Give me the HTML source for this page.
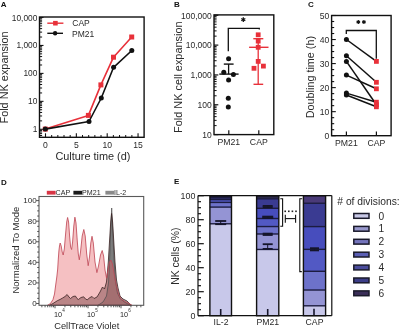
<!DOCTYPE html>
<html><head><meta charset="utf-8"><style>
html,body{margin:0;padding:0;background:#fff;}
svg{display:block;filter:blur(0.3px);font-family:"Liberation Sans",sans-serif;}
</style></head><body>
<svg width="400" height="330" viewBox="0 0 400 330">
<rect width="400" height="330" fill="#fff"/>
<text x="0.8" y="7.3" font-size="8" text-anchor="start" font-weight="bold" fill="#111" >A</text>
<rect x="39.5" y="17.0" width="104.6" height="120.30000000000001" fill="none" stroke="#111" stroke-width="1.4"/>
<line x1="39.5" y1="129.3" x2="43.5" y2="129.3" stroke="#111" stroke-width="1.1" />
<text x="37.4" y="132.3" font-size="8.4" text-anchor="end" font-weight="normal" fill="#2a2a2a" >1</text>
<line x1="39.5" y1="101.35" x2="43.5" y2="101.35" stroke="#111" stroke-width="1.1" />
<text x="37.4" y="104.35" font-size="8.4" text-anchor="end" font-weight="normal" fill="#2a2a2a" >10</text>
<line x1="39.5" y1="73.4" x2="43.5" y2="73.4" stroke="#111" stroke-width="1.1" />
<text x="37.4" y="76.4" font-size="8.4" text-anchor="end" font-weight="normal" fill="#2a2a2a" >100</text>
<line x1="39.5" y1="45.45" x2="43.5" y2="45.45" stroke="#111" stroke-width="1.1" />
<text x="37.4" y="48.45" font-size="8.4" text-anchor="end" font-weight="normal" fill="#2a2a2a" >1,000</text>
<line x1="39.5" y1="17.5" x2="43.5" y2="17.5" stroke="#111" stroke-width="1.1" />
<text x="37.4" y="20.5" font-size="8.4" text-anchor="end" font-weight="normal" fill="#2a2a2a" >10,000</text>
<line x1="39.5" y1="135.5" x2="42.1" y2="135.5" stroke="#111" stroke-width="1.0" />
<line x1="39.5" y1="133.63" x2="42.1" y2="133.63" stroke="#111" stroke-width="1.0" />
<line x1="39.5" y1="132.01" x2="42.1" y2="132.01" stroke="#111" stroke-width="1.0" />
<line x1="39.5" y1="130.58" x2="42.1" y2="130.58" stroke="#111" stroke-width="1.0" />
<line x1="39.5" y1="120.89" x2="42.1" y2="120.89" stroke="#111" stroke-width="1.0" />
<line x1="39.5" y1="115.96" x2="42.1" y2="115.96" stroke="#111" stroke-width="1.0" />
<line x1="39.5" y1="112.47" x2="42.1" y2="112.47" stroke="#111" stroke-width="1.0" />
<line x1="39.5" y1="109.76" x2="42.1" y2="109.76" stroke="#111" stroke-width="1.0" />
<line x1="39.5" y1="107.55" x2="42.1" y2="107.55" stroke="#111" stroke-width="1.0" />
<line x1="39.5" y1="105.68" x2="42.1" y2="105.68" stroke="#111" stroke-width="1.0" />
<line x1="39.5" y1="104.06" x2="42.1" y2="104.06" stroke="#111" stroke-width="1.0" />
<line x1="39.5" y1="102.63" x2="42.1" y2="102.63" stroke="#111" stroke-width="1.0" />
<line x1="39.5" y1="92.94" x2="42.1" y2="92.94" stroke="#111" stroke-width="1.0" />
<line x1="39.5" y1="88.01" x2="42.1" y2="88.01" stroke="#111" stroke-width="1.0" />
<line x1="39.5" y1="84.52" x2="42.1" y2="84.52" stroke="#111" stroke-width="1.0" />
<line x1="39.5" y1="81.81" x2="42.1" y2="81.81" stroke="#111" stroke-width="1.0" />
<line x1="39.5" y1="79.6" x2="42.1" y2="79.6" stroke="#111" stroke-width="1.0" />
<line x1="39.5" y1="77.73" x2="42.1" y2="77.73" stroke="#111" stroke-width="1.0" />
<line x1="39.5" y1="76.11" x2="42.1" y2="76.11" stroke="#111" stroke-width="1.0" />
<line x1="39.5" y1="74.68" x2="42.1" y2="74.68" stroke="#111" stroke-width="1.0" />
<line x1="39.5" y1="64.99" x2="42.1" y2="64.99" stroke="#111" stroke-width="1.0" />
<line x1="39.5" y1="60.06" x2="42.1" y2="60.06" stroke="#111" stroke-width="1.0" />
<line x1="39.5" y1="56.57" x2="42.1" y2="56.57" stroke="#111" stroke-width="1.0" />
<line x1="39.5" y1="53.86" x2="42.1" y2="53.86" stroke="#111" stroke-width="1.0" />
<line x1="39.5" y1="51.65" x2="42.1" y2="51.65" stroke="#111" stroke-width="1.0" />
<line x1="39.5" y1="49.78" x2="42.1" y2="49.78" stroke="#111" stroke-width="1.0" />
<line x1="39.5" y1="48.16" x2="42.1" y2="48.16" stroke="#111" stroke-width="1.0" />
<line x1="39.5" y1="46.73" x2="42.1" y2="46.73" stroke="#111" stroke-width="1.0" />
<line x1="39.5" y1="37.04" x2="42.1" y2="37.04" stroke="#111" stroke-width="1.0" />
<line x1="39.5" y1="32.11" x2="42.1" y2="32.11" stroke="#111" stroke-width="1.0" />
<line x1="39.5" y1="28.62" x2="42.1" y2="28.62" stroke="#111" stroke-width="1.0" />
<line x1="39.5" y1="25.91" x2="42.1" y2="25.91" stroke="#111" stroke-width="1.0" />
<line x1="39.5" y1="23.7" x2="42.1" y2="23.7" stroke="#111" stroke-width="1.0" />
<line x1="39.5" y1="21.83" x2="42.1" y2="21.83" stroke="#111" stroke-width="1.0" />
<line x1="39.5" y1="20.21" x2="42.1" y2="20.21" stroke="#111" stroke-width="1.0" />
<line x1="39.5" y1="18.78" x2="42.1" y2="18.78" stroke="#111" stroke-width="1.0" />
<line x1="45.5" y1="137.3" x2="45.5" y2="133.3" stroke="#111" stroke-width="1.1" />
<line x1="51.67" y1="137.3" x2="51.67" y2="135" stroke="#111" stroke-width="1.0" />
<line x1="57.84" y1="137.3" x2="57.84" y2="135" stroke="#111" stroke-width="1.0" />
<line x1="64.01" y1="137.3" x2="64.01" y2="135" stroke="#111" stroke-width="1.0" />
<line x1="70.18" y1="137.3" x2="70.18" y2="135" stroke="#111" stroke-width="1.0" />
<line x1="76.35" y1="137.3" x2="76.35" y2="133.3" stroke="#111" stroke-width="1.1" />
<line x1="82.52" y1="137.3" x2="82.52" y2="135" stroke="#111" stroke-width="1.0" />
<line x1="88.69" y1="137.3" x2="88.69" y2="135" stroke="#111" stroke-width="1.0" />
<line x1="94.86" y1="137.3" x2="94.86" y2="135" stroke="#111" stroke-width="1.0" />
<line x1="101.03" y1="137.3" x2="101.03" y2="135" stroke="#111" stroke-width="1.0" />
<line x1="107.2" y1="137.3" x2="107.2" y2="133.3" stroke="#111" stroke-width="1.1" />
<line x1="113.37" y1="137.3" x2="113.37" y2="135" stroke="#111" stroke-width="1.0" />
<line x1="119.54" y1="137.3" x2="119.54" y2="135" stroke="#111" stroke-width="1.0" />
<line x1="125.71" y1="137.3" x2="125.71" y2="135" stroke="#111" stroke-width="1.0" />
<line x1="131.88" y1="137.3" x2="131.88" y2="135" stroke="#111" stroke-width="1.0" />
<line x1="138.05" y1="137.3" x2="138.05" y2="133.3" stroke="#111" stroke-width="1.1" />
<text x="45.5" y="148.3" font-size="8.6" text-anchor="middle" font-weight="normal" fill="#2a2a2a" >0</text>
<text x="76.35" y="148.3" font-size="8.6" text-anchor="middle" font-weight="normal" fill="#2a2a2a" >5</text>
<text x="107.2" y="148.3" font-size="8.6" text-anchor="middle" font-weight="normal" fill="#2a2a2a" >10</text>
<text x="138.05" y="148.3" font-size="8.6" text-anchor="middle" font-weight="normal" fill="#2a2a2a" >15</text>
<text x="92.9" y="160.2" font-size="10.9" text-anchor="middle" font-weight="normal" fill="#2a2a2a" >Culture time (d)</text>
<text transform="translate(8.4,77.5) rotate(-90)" font-size="10.9" text-anchor="middle" fill="#2a2a2a">Fold NK expansion</text>
<polyline points="45.3,129.1 88.4,115.4 100.9,84.9 113.5,57.2 131.7,37" fill="none" stroke="#e8313a" stroke-width="1.6" stroke-linejoin="round" />
<rect x="42.8" y="126.6" width="5" height="5" fill="#e8313a"/>
<rect x="85.9" y="112.9" width="5" height="5" fill="#e8313a"/>
<rect x="98.4" y="82.4" width="5" height="5" fill="#e8313a"/>
<rect x="111" y="54.7" width="5" height="5" fill="#e8313a"/>
<rect x="129.2" y="34.5" width="5" height="5" fill="#e8313a"/>
<polyline points="45.3,129.1 89,121.5 101.3,98 113.6,67.3 131.8,50.5" fill="none" stroke="#111" stroke-width="1.6" stroke-linejoin="round" />
<circle cx="45.3" cy="129.1" r="2.5" fill="#111"/>
<circle cx="89" cy="121.5" r="2.5" fill="#111"/>
<circle cx="101.3" cy="98" r="2.5" fill="#111"/>
<circle cx="113.6" cy="67.3" r="2.5" fill="#111"/>
<circle cx="131.8" cy="50.5" r="2.5" fill="#111"/>
<line x1="47.3" y1="23.2" x2="63.4" y2="23.2" stroke="#e8313a" stroke-width="1.4" />
<rect x="53.1" y="20.9" width="4.6" height="4.6" fill="#e8313a"/>
<text x="72.3" y="26.3" font-size="8.5" text-anchor="start" font-weight="normal" fill="#2a2a2a" >CAP</text>
<line x1="47.3" y1="33.3" x2="63" y2="33.3" stroke="#111" stroke-width="1.4" />
<circle cx="55.1" cy="33.3" r="2.2" fill="#111"/>
<text x="72" y="36.7" font-size="8.5" text-anchor="start" font-weight="normal" fill="#2a2a2a" >PM21</text>
<text x="174" y="7.1" font-size="8" text-anchor="start" font-weight="bold" fill="#111" >B</text>
<rect x="214.0" y="14.9" width="59.80000000000001" height="119.69999999999999" fill="none" stroke="#111" stroke-width="1.4"/>
<line x1="214" y1="134.6" x2="218.3" y2="134.6" stroke="#111" stroke-width="1.2" />
<text x="211.8" y="137.9" font-size="8.5" text-anchor="end" font-weight="normal" fill="#2a2a2a" >10</text>
<line x1="214" y1="104.77" x2="218.3" y2="104.77" stroke="#111" stroke-width="1.2" />
<text x="211.8" y="108.07" font-size="8.5" text-anchor="end" font-weight="normal" fill="#2a2a2a" >100</text>
<line x1="214" y1="74.94" x2="218.3" y2="74.94" stroke="#111" stroke-width="1.2" />
<text x="211.8" y="78.24" font-size="8.5" text-anchor="end" font-weight="normal" fill="#2a2a2a" >1,000</text>
<line x1="214" y1="45.11" x2="218.3" y2="45.11" stroke="#111" stroke-width="1.2" />
<text x="211.8" y="48.41" font-size="8.5" text-anchor="end" font-weight="normal" fill="#2a2a2a" >10,000</text>
<line x1="214" y1="15.28" x2="218.3" y2="15.28" stroke="#111" stroke-width="1.2" />
<text x="211.8" y="18.58" font-size="8.5" text-anchor="end" font-weight="normal" fill="#2a2a2a" >100,000</text>
<line x1="214" y1="125.62" x2="216.6" y2="125.62" stroke="#111" stroke-width="1.0" />
<line x1="214" y1="120.37" x2="216.6" y2="120.37" stroke="#111" stroke-width="1.0" />
<line x1="214" y1="116.64" x2="216.6" y2="116.64" stroke="#111" stroke-width="1.0" />
<line x1="214" y1="113.75" x2="216.6" y2="113.75" stroke="#111" stroke-width="1.0" />
<line x1="214" y1="111.39" x2="216.6" y2="111.39" stroke="#111" stroke-width="1.0" />
<line x1="214" y1="109.39" x2="216.6" y2="109.39" stroke="#111" stroke-width="1.0" />
<line x1="214" y1="107.66" x2="216.6" y2="107.66" stroke="#111" stroke-width="1.0" />
<line x1="214" y1="106.13" x2="216.6" y2="106.13" stroke="#111" stroke-width="1.0" />
<line x1="214" y1="95.79" x2="216.6" y2="95.79" stroke="#111" stroke-width="1.0" />
<line x1="214" y1="90.54" x2="216.6" y2="90.54" stroke="#111" stroke-width="1.0" />
<line x1="214" y1="86.81" x2="216.6" y2="86.81" stroke="#111" stroke-width="1.0" />
<line x1="214" y1="83.92" x2="216.6" y2="83.92" stroke="#111" stroke-width="1.0" />
<line x1="214" y1="81.56" x2="216.6" y2="81.56" stroke="#111" stroke-width="1.0" />
<line x1="214" y1="79.56" x2="216.6" y2="79.56" stroke="#111" stroke-width="1.0" />
<line x1="214" y1="77.83" x2="216.6" y2="77.83" stroke="#111" stroke-width="1.0" />
<line x1="214" y1="76.3" x2="216.6" y2="76.3" stroke="#111" stroke-width="1.0" />
<line x1="214" y1="65.96" x2="216.6" y2="65.96" stroke="#111" stroke-width="1.0" />
<line x1="214" y1="60.71" x2="216.6" y2="60.71" stroke="#111" stroke-width="1.0" />
<line x1="214" y1="56.98" x2="216.6" y2="56.98" stroke="#111" stroke-width="1.0" />
<line x1="214" y1="54.09" x2="216.6" y2="54.09" stroke="#111" stroke-width="1.0" />
<line x1="214" y1="51.73" x2="216.6" y2="51.73" stroke="#111" stroke-width="1.0" />
<line x1="214" y1="49.73" x2="216.6" y2="49.73" stroke="#111" stroke-width="1.0" />
<line x1="214" y1="48" x2="216.6" y2="48" stroke="#111" stroke-width="1.0" />
<line x1="214" y1="46.47" x2="216.6" y2="46.47" stroke="#111" stroke-width="1.0" />
<line x1="214" y1="36.13" x2="216.6" y2="36.13" stroke="#111" stroke-width="1.0" />
<line x1="214" y1="30.88" x2="216.6" y2="30.88" stroke="#111" stroke-width="1.0" />
<line x1="214" y1="27.15" x2="216.6" y2="27.15" stroke="#111" stroke-width="1.0" />
<line x1="214" y1="24.26" x2="216.6" y2="24.26" stroke="#111" stroke-width="1.0" />
<line x1="214" y1="21.9" x2="216.6" y2="21.9" stroke="#111" stroke-width="1.0" />
<line x1="214" y1="19.9" x2="216.6" y2="19.9" stroke="#111" stroke-width="1.0" />
<line x1="214" y1="18.17" x2="216.6" y2="18.17" stroke="#111" stroke-width="1.0" />
<line x1="214" y1="16.64" x2="216.6" y2="16.64" stroke="#111" stroke-width="1.0" />
<line x1="228.8" y1="134.6" x2="228.8" y2="130.3" stroke="#111" stroke-width="1.2" />
<line x1="258.8" y1="134.6" x2="258.8" y2="130.3" stroke="#111" stroke-width="1.2" />
<text x="228.8" y="145" font-size="8.7" text-anchor="middle" font-weight="normal" fill="#2a2a2a" >PM21</text>
<text x="258.8" y="145" font-size="8.7" text-anchor="middle" font-weight="normal" fill="#2a2a2a" >CAP</text>
<text transform="translate(182.1,77.2) rotate(-90)" font-size="10.9" text-anchor="middle" fill="#2a2a2a">Fold NK cell expansion</text>
<circle cx="228.6" cy="58.8" r="2.5" fill="#111"/>
<circle cx="223.8" cy="72.3" r="2.5" fill="#111"/>
<circle cx="233.4" cy="74.5" r="2.5" fill="#111"/>
<circle cx="228.6" cy="80" r="2.5" fill="#111"/>
<circle cx="228.3" cy="98.2" r="2.5" fill="#111"/>
<circle cx="228.3" cy="106.9" r="2.5" fill="#111"/>
<line x1="219.3" y1="74.1" x2="238.6" y2="74.1" stroke="#111" stroke-width="1.4" />
<line x1="228.6" y1="64.1" x2="228.6" y2="74.1" stroke="#111" stroke-width="1.3" />
<line x1="223.8" y1="64.1" x2="233.6" y2="64.1" stroke="#111" stroke-width="1.4" />
<rect x="255.8" y="32.4" width="4.8" height="4.8" fill="#e8313a"/>
<rect x="255.8" y="38.7" width="4.8" height="4.8" fill="#e8313a"/>
<rect x="255.8" y="44.9" width="4.8" height="4.8" fill="#e8313a"/>
<rect x="255.8" y="59" width="4.8" height="4.8" fill="#e8313a"/>
<rect x="251.6" y="65.9" width="4.8" height="4.8" fill="#e8313a"/>
<rect x="261" y="63.7" width="4.8" height="4.8" fill="#e8313a"/>
<line x1="249.1" y1="47.3" x2="268.5" y2="47.3" stroke="#e8313a" stroke-width="1.4" />
<line x1="258.2" y1="38.7" x2="258.2" y2="84.3" stroke="#e8313a" stroke-width="1.3" />
<line x1="253.3" y1="38.7" x2="263.3" y2="38.7" stroke="#e8313a" stroke-width="1.4" />
<line x1="253.5" y1="84.3" x2="263.2" y2="84.3" stroke="#e8313a" stroke-width="1.4" />
<polyline points="228.3,51.2 228.3,28.3 259.3,28.3 259.3,29.5" fill="none" stroke="#111" stroke-width="1.3" stroke-linejoin="round" style="stroke-linejoin:miter"/>
<line x1="243.3" y1="17.3" x2="243.3" y2="21.9" stroke="#111" stroke-width="1.25"/>
<line x1="241.31" y1="18.45" x2="245.29" y2="20.75" stroke="#111" stroke-width="1.25"/>
<line x1="245.29" y1="18.45" x2="241.31" y2="20.75" stroke="#111" stroke-width="1.25"/>
<text x="307.9" y="7" font-size="8" text-anchor="start" font-weight="bold" fill="#111" >C</text>
<rect x="331.6" y="15.5" width="59.5" height="120.19999999999999" fill="none" stroke="#111" stroke-width="1.4"/>
<line x1="331.6" y1="135.7" x2="335.8" y2="135.7" stroke="#111" stroke-width="1.1" />
<line x1="331.6" y1="129.69" x2="334.2" y2="129.69" stroke="#111" stroke-width="1.1" />
<line x1="331.6" y1="123.68" x2="334.2" y2="123.68" stroke="#111" stroke-width="1.1" />
<line x1="331.6" y1="117.67" x2="334.2" y2="117.67" stroke="#111" stroke-width="1.1" />
<line x1="331.6" y1="111.66" x2="335.8" y2="111.66" stroke="#111" stroke-width="1.1" />
<line x1="331.6" y1="105.65" x2="334.2" y2="105.65" stroke="#111" stroke-width="1.1" />
<line x1="331.6" y1="99.64" x2="334.2" y2="99.64" stroke="#111" stroke-width="1.1" />
<line x1="331.6" y1="93.63" x2="334.2" y2="93.63" stroke="#111" stroke-width="1.1" />
<line x1="331.6" y1="87.62" x2="335.8" y2="87.62" stroke="#111" stroke-width="1.1" />
<line x1="331.6" y1="81.61" x2="334.2" y2="81.61" stroke="#111" stroke-width="1.1" />
<line x1="331.6" y1="75.6" x2="334.2" y2="75.6" stroke="#111" stroke-width="1.1" />
<line x1="331.6" y1="69.59" x2="334.2" y2="69.59" stroke="#111" stroke-width="1.1" />
<line x1="331.6" y1="63.58" x2="335.8" y2="63.58" stroke="#111" stroke-width="1.1" />
<line x1="331.6" y1="57.57" x2="334.2" y2="57.57" stroke="#111" stroke-width="1.1" />
<line x1="331.6" y1="51.56" x2="334.2" y2="51.56" stroke="#111" stroke-width="1.1" />
<line x1="331.6" y1="45.55" x2="334.2" y2="45.55" stroke="#111" stroke-width="1.1" />
<line x1="331.6" y1="39.54" x2="335.8" y2="39.54" stroke="#111" stroke-width="1.1" />
<line x1="331.6" y1="33.53" x2="334.2" y2="33.53" stroke="#111" stroke-width="1.1" />
<line x1="331.6" y1="27.52" x2="334.2" y2="27.52" stroke="#111" stroke-width="1.1" />
<line x1="331.6" y1="21.51" x2="334.2" y2="21.51" stroke="#111" stroke-width="1.1" />
<line x1="331.6" y1="15.5" x2="335.8" y2="15.5" stroke="#111" stroke-width="1.1" />
<text x="329.3" y="138.8" font-size="8.6" text-anchor="end" font-weight="normal" fill="#2a2a2a" >0</text>
<text x="329.3" y="114.76" font-size="8.6" text-anchor="end" font-weight="normal" fill="#2a2a2a" >10</text>
<text x="329.3" y="90.72" font-size="8.6" text-anchor="end" font-weight="normal" fill="#2a2a2a" >20</text>
<text x="329.3" y="66.68" font-size="8.6" text-anchor="end" font-weight="normal" fill="#2a2a2a" >30</text>
<text x="329.3" y="42.64" font-size="8.6" text-anchor="end" font-weight="normal" fill="#2a2a2a" >40</text>
<text x="329.3" y="18.6" font-size="8.6" text-anchor="end" font-weight="normal" fill="#2a2a2a" >50</text>
<line x1="346.4" y1="135.7" x2="346.4" y2="131.5" stroke="#111" stroke-width="1.2" />
<line x1="376.4" y1="135.7" x2="376.4" y2="131.5" stroke="#111" stroke-width="1.2" />
<text x="346.4" y="146" font-size="8.7" text-anchor="middle" font-weight="normal" fill="#2a2a2a" >PM21</text>
<text x="376.4" y="146" font-size="8.7" text-anchor="middle" font-weight="normal" fill="#2a2a2a" >CAP</text>
<text transform="translate(314.2,77.1) rotate(-90)" font-size="10.8" text-anchor="middle" fill="#2a2a2a">Doubling time (h)</text>
<line x1="346.4" y1="39.5" x2="376.4" y2="61.4" stroke="#111" stroke-width="1.5" />
<line x1="346.4" y1="55.8" x2="376.4" y2="82.3" stroke="#111" stroke-width="1.5" />
<line x1="346.4" y1="61.4" x2="376.4" y2="104.7" stroke="#111" stroke-width="1.5" />
<line x1="346.4" y1="75.1" x2="376.4" y2="88.8" stroke="#111" stroke-width="1.5" />
<line x1="346.4" y1="93.1" x2="376.4" y2="102.2" stroke="#111" stroke-width="1.5" />
<line x1="346.4" y1="95" x2="376.4" y2="106.8" stroke="#111" stroke-width="1.5" />
<circle cx="346.4" cy="39.5" r="2.5" fill="#111"/>
<rect x="374" y="59" width="4.8" height="4.8" fill="#e8313a"/>
<circle cx="346.4" cy="55.8" r="2.5" fill="#111"/>
<rect x="374" y="79.9" width="4.8" height="4.8" fill="#e8313a"/>
<circle cx="346.4" cy="61.4" r="2.5" fill="#111"/>
<rect x="374" y="102.3" width="4.8" height="4.8" fill="#e8313a"/>
<circle cx="346.4" cy="75.1" r="2.5" fill="#111"/>
<rect x="374" y="86.4" width="4.8" height="4.8" fill="#e8313a"/>
<circle cx="346.4" cy="93.1" r="2.5" fill="#111"/>
<rect x="374" y="99.8" width="4.8" height="4.8" fill="#e8313a"/>
<circle cx="346.4" cy="95.0" r="2.5" fill="#111"/>
<rect x="374" y="104.4" width="4.8" height="4.8" fill="#e8313a"/>
<polyline points="346.3,34 346.3,30.5 376.3,30.5 376.3,58.8" fill="none" stroke="#111" stroke-width="1.3" stroke-linejoin="round" style="stroke-linejoin:miter"/>
<line x1="358.3" y1="20" x2="358.3" y2="24" stroke="#111" stroke-width="1.25"/>
<line x1="356.57" y1="21" x2="360.03" y2="23" stroke="#111" stroke-width="1.25"/>
<line x1="360.03" y1="21" x2="356.57" y2="23" stroke="#111" stroke-width="1.25"/>
<line x1="363.9" y1="20" x2="363.9" y2="24" stroke="#111" stroke-width="1.25"/>
<line x1="362.17" y1="21" x2="365.63" y2="23" stroke="#111" stroke-width="1.25"/>
<line x1="365.63" y1="21" x2="362.17" y2="23" stroke="#111" stroke-width="1.25"/>
<text x="1" y="184.6" font-size="8" text-anchor="start" font-weight="bold" fill="#111" >D</text>
<path d="M98,305.3 L103,302 L106.5,296 L108.6,282 L109.8,255 L110.8,228 L111.7,208 L112.6,228 L113.8,255 L115.3,280 L117.5,293 L120.5,299 L126,303 L131,305.3 Z" fill="#c4c4c4" stroke="none"/>
<path d="M49.5,305.3 L53,303.5 L57.7,300.5 L60,299.5 L62.6,298 L65,296.5 L67.1,294.5 L69,297 L70.5,298.5 L73,296.5 L75.4,296 L77,298.5 L78.4,299.5 L81,297.5 L83.7,296.8 L85.5,299 L87.2,299.8 L90,297.5 L92.1,296.5 L94,298.5 L97,297 L100,292 L102.5,287 L104.5,289 L106.5,282 L108.3,262 L109.6,240 L110.7,222 L111.6,213.5 L112.6,222 L113.7,240 L115,262 L116.5,280 L118,288 L120,296 L123,299 L127,301 L131,305.3 Z" fill="#000" fill-opacity="0.37" stroke="none"/>
<path d="M47.5,305.3 L50.5,303.5 L53,299.5 L54.5,294 L55.7,285 L56.8,277 L57.7,269 L58.3,259 L58.9,251 L59.5,246 L60.2,243 L61.2,246 L62.2,252 L63.2,255 L64.3,249 L65.5,235 L66.7,222 L67.6,217.5 L68.6,222 L69.6,236 L70.6,247 L71.6,249.5 L72.6,242 L73.8,226 L74.9,217.2 L76,223 L77.2,240 L78.3,254 L79.3,259.8 L80.5,252 L82.2,236 L83.8,229.5 L85.2,236 L86.7,254 L88.2,265.7 L89.5,257 L90.8,243 L92,236.3 L93.3,243 L95,262 L96.9,272.6 L98.5,266 L100.5,255 L102.2,250.5 L103.6,256 L105,270 L106.5,278 L108,270 L109.5,262 L110.8,260 L112.5,264 L114.5,276 L116.5,286 L118.5,294 L121,299 L125,301.5 L129,303.5 L132,305.3 Z" fill="rgb(230,90,95)" fill-opacity="0.38" stroke="none"/>
<path d="M98,305.3 L103,302 L106.5,296 L108.6,282 L109.8,255 L110.8,228 L111.7,208 L112.6,228 L113.8,255 L115.3,280 L117.5,293 L120.5,299 L126,303 L131,305.3 Z" fill="none" stroke="#4a4a4a" stroke-width="0.7" stroke-linejoin="round"/>
<path d="M49.5,305.3 L53,303.5 L57.7,300.5 L60,299.5 L62.6,298 L65,296.5 L67.1,294.5 L69,297 L70.5,298.5 L73,296.5 L75.4,296 L77,298.5 L78.4,299.5 L81,297.5 L83.7,296.8 L85.5,299 L87.2,299.8 L90,297.5 L92.1,296.5 L94,298.5 L97,297 L100,292 L102.5,287 L104.5,289 L106.5,282 L108.3,262 L109.6,240 L110.7,222 L111.6,213.5 L112.6,222 L113.7,240 L115,262 L116.5,280 L118,288 L120,296 L123,299 L127,301 L131,305.3 Z" fill="none" stroke="#3a2222" stroke-width="0.8" stroke-linejoin="round"/>
<path d="M47.5,305.3 L50.5,303.5 L53,299.5 L54.5,294 L55.7,285 L56.8,277 L57.7,269 L58.3,259 L58.9,251 L59.5,246 L60.2,243 L61.2,246 L62.2,252 L63.2,255 L64.3,249 L65.5,235 L66.7,222 L67.6,217.5 L68.6,222 L69.6,236 L70.6,247 L71.6,249.5 L72.6,242 L73.8,226 L74.9,217.2 L76,223 L77.2,240 L78.3,254 L79.3,259.8 L80.5,252 L82.2,236 L83.8,229.5 L85.2,236 L86.7,254 L88.2,265.7 L89.5,257 L90.8,243 L92,236.3 L93.3,243 L95,262 L96.9,272.6 L98.5,266 L100.5,255 L102.2,250.5 L103.6,256 L105,270 L106.5,278 L108,270 L109.5,262 L110.8,260 L112.5,264 L114.5,276 L116.5,286 L118.5,294 L121,299 L125,301.5 L129,303.5 L132,305.3 Z" fill="none" stroke="#c04a58" stroke-width="0.85" stroke-linejoin="round"/>
<rect x="39.0" y="196.5" width="104.69999999999999" height="108.80000000000001" fill="none" stroke="#5a5a5a" stroke-width="1.1"/>
<line x1="39" y1="303.5" x2="36.2" y2="303.5" stroke="#444" stroke-width="0.9" />
<line x1="39" y1="298.36" x2="37.2" y2="298.36" stroke="#444" stroke-width="0.9" />
<line x1="39" y1="293.21" x2="37.2" y2="293.21" stroke="#444" stroke-width="0.9" />
<line x1="39" y1="288.06" x2="37.2" y2="288.06" stroke="#444" stroke-width="0.9" />
<line x1="39" y1="282.92" x2="36.2" y2="282.92" stroke="#444" stroke-width="0.9" />
<line x1="39" y1="277.77" x2="37.2" y2="277.77" stroke="#444" stroke-width="0.9" />
<line x1="39" y1="272.63" x2="37.2" y2="272.63" stroke="#444" stroke-width="0.9" />
<line x1="39" y1="267.49" x2="37.2" y2="267.49" stroke="#444" stroke-width="0.9" />
<line x1="39" y1="262.34" x2="36.2" y2="262.34" stroke="#444" stroke-width="0.9" />
<line x1="39" y1="257.19" x2="37.2" y2="257.19" stroke="#444" stroke-width="0.9" />
<line x1="39" y1="252.05" x2="37.2" y2="252.05" stroke="#444" stroke-width="0.9" />
<line x1="39" y1="246.91" x2="37.2" y2="246.91" stroke="#444" stroke-width="0.9" />
<line x1="39" y1="241.76" x2="36.2" y2="241.76" stroke="#444" stroke-width="0.9" />
<line x1="39" y1="236.62" x2="37.2" y2="236.62" stroke="#444" stroke-width="0.9" />
<line x1="39" y1="231.47" x2="37.2" y2="231.47" stroke="#444" stroke-width="0.9" />
<line x1="39" y1="226.32" x2="37.2" y2="226.32" stroke="#444" stroke-width="0.9" />
<line x1="39" y1="221.18" x2="36.2" y2="221.18" stroke="#444" stroke-width="0.9" />
<line x1="39" y1="216.04" x2="37.2" y2="216.04" stroke="#444" stroke-width="0.9" />
<line x1="39" y1="210.89" x2="37.2" y2="210.89" stroke="#444" stroke-width="0.9" />
<line x1="39" y1="205.75" x2="37.2" y2="205.75" stroke="#444" stroke-width="0.9" />
<line x1="39" y1="200.6" x2="36.2" y2="200.6" stroke="#444" stroke-width="0.9" />
<text x="36.6" y="305.9" font-size="8" text-anchor="end" font-weight="normal" fill="#2a2a2a" >0</text>
<text x="36.6" y="285.32" font-size="8" text-anchor="end" font-weight="normal" fill="#2a2a2a" >20</text>
<text x="36.6" y="264.74" font-size="8" text-anchor="end" font-weight="normal" fill="#2a2a2a" >40</text>
<text x="36.6" y="244.16" font-size="8" text-anchor="end" font-weight="normal" fill="#2a2a2a" >60</text>
<text x="36.6" y="223.58" font-size="8" text-anchor="end" font-weight="normal" fill="#2a2a2a" >80</text>
<text x="36.6" y="203" font-size="8" text-anchor="end" font-weight="normal" fill="#2a2a2a" >100</text>
<line x1="41.87" y1="305.3" x2="41.87" y2="307.3" stroke="#444" stroke-width="0.9" />
<line x1="45.07" y1="305.3" x2="45.07" y2="307.3" stroke="#444" stroke-width="0.9" />
<line x1="47.68" y1="305.3" x2="47.68" y2="307.3" stroke="#444" stroke-width="0.9" />
<line x1="49.89" y1="305.3" x2="49.89" y2="307.3" stroke="#444" stroke-width="0.9" />
<line x1="51.8" y1="305.3" x2="51.8" y2="307.3" stroke="#444" stroke-width="0.9" />
<line x1="53.49" y1="305.3" x2="53.49" y2="307.3" stroke="#444" stroke-width="0.9" />
<line x1="55" y1="305.3" x2="55" y2="308.3" stroke="#444" stroke-width="0.9" />
<line x1="64.93" y1="305.3" x2="64.93" y2="307.3" stroke="#444" stroke-width="0.9" />
<line x1="70.75" y1="305.3" x2="70.75" y2="307.3" stroke="#444" stroke-width="0.9" />
<line x1="74.87" y1="305.3" x2="74.87" y2="307.3" stroke="#444" stroke-width="0.9" />
<line x1="78.07" y1="305.3" x2="78.07" y2="307.3" stroke="#444" stroke-width="0.9" />
<line x1="80.68" y1="305.3" x2="80.68" y2="307.3" stroke="#444" stroke-width="0.9" />
<line x1="82.89" y1="305.3" x2="82.89" y2="307.3" stroke="#444" stroke-width="0.9" />
<line x1="84.8" y1="305.3" x2="84.8" y2="307.3" stroke="#444" stroke-width="0.9" />
<line x1="86.49" y1="305.3" x2="86.49" y2="307.3" stroke="#444" stroke-width="0.9" />
<line x1="88" y1="305.3" x2="88" y2="308.3" stroke="#444" stroke-width="0.9" />
<line x1="97.93" y1="305.3" x2="97.93" y2="307.3" stroke="#444" stroke-width="0.9" />
<line x1="103.75" y1="305.3" x2="103.75" y2="307.3" stroke="#444" stroke-width="0.9" />
<line x1="107.87" y1="305.3" x2="107.87" y2="307.3" stroke="#444" stroke-width="0.9" />
<line x1="111.07" y1="305.3" x2="111.07" y2="307.3" stroke="#444" stroke-width="0.9" />
<line x1="113.68" y1="305.3" x2="113.68" y2="307.3" stroke="#444" stroke-width="0.9" />
<line x1="115.89" y1="305.3" x2="115.89" y2="307.3" stroke="#444" stroke-width="0.9" />
<line x1="117.8" y1="305.3" x2="117.8" y2="307.3" stroke="#444" stroke-width="0.9" />
<line x1="119.49" y1="305.3" x2="119.49" y2="307.3" stroke="#444" stroke-width="0.9" />
<line x1="121" y1="305.3" x2="121" y2="308.3" stroke="#444" stroke-width="0.9" />
<line x1="130.93" y1="305.3" x2="130.93" y2="307.3" stroke="#444" stroke-width="0.9" />
<line x1="136.75" y1="305.3" x2="136.75" y2="307.3" stroke="#444" stroke-width="0.9" />
<line x1="140.87" y1="305.3" x2="140.87" y2="307.3" stroke="#444" stroke-width="0.9" />
<text x="54" y="316.6" font-size="7.3" text-anchor="start" font-weight="normal" fill="#2a2a2a" >10</text>
<text x="62.3" y="311.9" font-size="4.6" text-anchor="start" font-weight="normal" fill="#2a2a2a" >4</text>
<text x="87" y="316.6" font-size="7.3" text-anchor="start" font-weight="normal" fill="#2a2a2a" >10</text>
<text x="95.3" y="311.9" font-size="4.6" text-anchor="start" font-weight="normal" fill="#2a2a2a" >5</text>
<text x="120" y="316.6" font-size="7.3" text-anchor="start" font-weight="normal" fill="#2a2a2a" >10</text>
<text x="128.3" y="311.9" font-size="4.6" text-anchor="start" font-weight="normal" fill="#2a2a2a" >6</text>
<text x="86.8" y="329.3" font-size="9.3" text-anchor="middle" font-weight="normal" fill="#2a2a2a" >CellTrace Violet</text>
<text transform="translate(19.3,250.1) rotate(-90)" font-size="9.5" text-anchor="middle" fill="#2a2a2a">Normalized To Mode</text>
<rect x="46.8" y="190.8" width="8.8" height="3.8" fill="#d83545"/>
<text x="55.6" y="195" font-size="7.1" text-anchor="start" font-weight="normal" fill="#2a2a2a" >CAP</text>
<rect x="73.4" y="190.8" width="8.8" height="3.8" fill="#1a1a1a"/>
<text x="82.1" y="195" font-size="7.1" text-anchor="start" font-weight="normal" fill="#2a2a2a" >PM21</text>
<rect x="105.4" y="190.8" width="8.8" height="3.8" fill="#8a8a8a"/>
<text x="114.1" y="195" font-size="7.1" text-anchor="start" font-weight="normal" fill="#2a2a2a" >IL-2</text>
<text x="173.9" y="184.4" font-size="8" text-anchor="start" font-weight="bold" fill="#111" >E</text>
<rect x="209.9" y="223.78" width="21.6" height="91.92" fill="#c8c8ea"/>
<rect x="209.9" y="207.1" width="21.6" height="16.68" fill="#9494d4"/>
<rect x="209.9" y="202.42" width="21.6" height="4.68" fill="#6d72ca"/>
<rect x="209.9" y="199.6" width="21.6" height="2.82" fill="#5259c4"/>
<rect x="209.9" y="197.5" width="21.6" height="2.1" fill="#2e2e66"/>
<rect x="209.9" y="196.3" width="21.6" height="1.2" fill="#2a2a55"/>
<rect x="209.9" y="195.7" width="21.6" height="0.6" fill="#2a2848"/>
<line x1="209.9" y1="223.78" x2="231.5" y2="223.78" stroke="#1c1c40" stroke-width="1.4" />
<line x1="209.9" y1="207.1" x2="231.5" y2="207.1" stroke="#1c1c40" stroke-width="1.4" />
<line x1="209.9" y1="202.42" x2="231.5" y2="202.42" stroke="#1c1c40" stroke-width="1.4" />
<line x1="209.9" y1="199.6" x2="231.5" y2="199.6" stroke="#1c1c40" stroke-width="1.4" />
<line x1="209.9" y1="197.5" x2="231.5" y2="197.5" stroke="#1c1c40" stroke-width="1.4" />
<line x1="209.9" y1="196.3" x2="231.5" y2="196.3" stroke="#1c1c40" stroke-width="1.4" />
<rect x="209.9" y="195.7" width="21.6" height="120" fill="none" stroke="#111" stroke-width="1.4"/>
<rect x="256.6" y="249.46" width="22.2" height="66.24" fill="#c8c8ea"/>
<rect x="256.6" y="233.98" width="22.2" height="15.48" fill="#9494d4"/>
<rect x="256.6" y="226.54" width="22.2" height="7.44" fill="#6d72ca"/>
<rect x="256.6" y="218.5" width="22.2" height="8.04" fill="#5259c4"/>
<rect x="256.6" y="208.3" width="22.2" height="10.2" fill="#474dbd"/>
<rect x="256.6" y="198.82" width="22.2" height="9.48" fill="#3a3b92"/>
<rect x="256.6" y="195.7" width="22.2" height="3.12" fill="#2a2848"/>
<line x1="256.6" y1="249.46" x2="278.8" y2="249.46" stroke="#1c1c40" stroke-width="1.4" />
<line x1="256.6" y1="233.98" x2="278.8" y2="233.98" stroke="#1c1c40" stroke-width="1.4" />
<line x1="256.6" y1="226.54" x2="278.8" y2="226.54" stroke="#1c1c40" stroke-width="1.4" />
<line x1="256.6" y1="218.5" x2="278.8" y2="218.5" stroke="#1c1c40" stroke-width="1.4" />
<line x1="256.6" y1="208.3" x2="278.8" y2="208.3" stroke="#1c1c40" stroke-width="1.4" />
<line x1="256.6" y1="198.82" x2="278.8" y2="198.82" stroke="#1c1c40" stroke-width="1.4" />
<rect x="256.6" y="195.7" width="22.2" height="120" fill="none" stroke="#111" stroke-width="1.4"/>
<rect x="303.4" y="305.8" width="22.2" height="9.9" fill="#c8c8ea"/>
<rect x="303.4" y="290.02" width="22.2" height="15.78" fill="#9494d4"/>
<rect x="303.4" y="271.3" width="22.2" height="18.72" fill="#6d72ca"/>
<rect x="303.4" y="249.34" width="22.2" height="21.96" fill="#5259c4"/>
<rect x="303.4" y="226.6" width="22.2" height="22.74" fill="#474dbd"/>
<rect x="303.4" y="203.26" width="22.2" height="23.34" fill="#3a3b92"/>
<rect x="303.4" y="195.7" width="22.2" height="7.56" fill="#4a3a78"/>
<line x1="303.4" y1="305.8" x2="325.6" y2="305.8" stroke="#1c1c40" stroke-width="1.4" />
<line x1="303.4" y1="290.02" x2="325.6" y2="290.02" stroke="#1c1c40" stroke-width="1.4" />
<line x1="303.4" y1="271.3" x2="325.6" y2="271.3" stroke="#1c1c40" stroke-width="1.4" />
<line x1="303.4" y1="249.34" x2="325.6" y2="249.34" stroke="#1c1c40" stroke-width="1.4" />
<line x1="303.4" y1="226.6" x2="325.6" y2="226.6" stroke="#1c1c40" stroke-width="1.4" />
<line x1="303.4" y1="203.26" x2="325.6" y2="203.26" stroke="#1c1c40" stroke-width="1.4" />
<rect x="303.4" y="195.7" width="22.2" height="120" fill="none" stroke="#111" stroke-width="1.4"/>
<line x1="215.2" y1="221" x2="226.2" y2="221" stroke="#15152a" stroke-width="1.8" />
<line x1="215.2" y1="224.2" x2="226.2" y2="224.2" stroke="#15152a" stroke-width="1.8" />
<line x1="220.7" y1="221" x2="220.7" y2="224.2" stroke="#15152a" stroke-width="1.0" />
<line x1="262.7" y1="205.9" x2="272.7" y2="205.9" stroke="#15152a" stroke-width="1.8" />
<line x1="262.7" y1="207.2" x2="272.7" y2="207.2" stroke="#15152a" stroke-width="1.8" />
<line x1="267.7" y1="205.9" x2="267.7" y2="207.2" stroke="#15152a" stroke-width="1.0" />
<line x1="262.2" y1="216.6" x2="273.2" y2="216.6" stroke="#15152a" stroke-width="1.8" />
<line x1="262.2" y1="218" x2="273.2" y2="218" stroke="#15152a" stroke-width="1.8" />
<line x1="267.7" y1="216.6" x2="267.7" y2="218" stroke="#15152a" stroke-width="1.0" />
<line x1="262.7" y1="233.6" x2="272.7" y2="233.6" stroke="#15152a" stroke-width="1.8" />
<line x1="262.7" y1="235" x2="272.7" y2="235" stroke="#15152a" stroke-width="1.8" />
<line x1="267.7" y1="233.6" x2="267.7" y2="235" stroke="#15152a" stroke-width="1.0" />
<line x1="262.7" y1="244.2" x2="272.7" y2="244.2" stroke="#15152a" stroke-width="1.8" />
<line x1="262.7" y1="248.9" x2="272.7" y2="248.9" stroke="#15152a" stroke-width="1.8" />
<line x1="267.7" y1="244.2" x2="267.7" y2="248.9" stroke="#15152a" stroke-width="1.0" />
<line x1="310" y1="248.2" x2="319" y2="248.2" stroke="#15152a" stroke-width="1.8" />
<line x1="310" y1="250.4" x2="319" y2="250.4" stroke="#15152a" stroke-width="1.8" />
<line x1="314.5" y1="248.2" x2="314.5" y2="250.4" stroke="#15152a" stroke-width="1.0" />
<line x1="220.7" y1="309" x2="220.7" y2="315.7" stroke="#15152a" stroke-width="1.6" />
<line x1="267.7" y1="309" x2="267.7" y2="315.7" stroke="#15152a" stroke-width="1.6" />
<line x1="314" y1="308.8" x2="314" y2="315.7" stroke="#15152a" stroke-width="1.6" />
<line x1="198" y1="195.6" x2="331.8" y2="195.6" stroke="#111" stroke-width="1.2" />
<line x1="198" y1="315.7" x2="331.8" y2="315.7" stroke="#111" stroke-width="1.2" />
<line x1="198" y1="195.6" x2="198" y2="315.7" stroke="#111" stroke-width="1.2" />
<line x1="331.8" y1="195.6" x2="331.8" y2="315.7" stroke="#111" stroke-width="1.2" />
<line x1="198" y1="315.7" x2="203.8" y2="315.7" stroke="#111" stroke-width="1.2" />
<line x1="198" y1="309.7" x2="201" y2="309.7" stroke="#111" stroke-width="1.2" />
<line x1="198" y1="303.7" x2="201" y2="303.7" stroke="#111" stroke-width="1.2" />
<line x1="198" y1="297.7" x2="201" y2="297.7" stroke="#111" stroke-width="1.2" />
<line x1="198" y1="291.7" x2="203.8" y2="291.7" stroke="#111" stroke-width="1.2" />
<line x1="198" y1="285.7" x2="201" y2="285.7" stroke="#111" stroke-width="1.2" />
<line x1="198" y1="279.7" x2="201" y2="279.7" stroke="#111" stroke-width="1.2" />
<line x1="198" y1="273.7" x2="201" y2="273.7" stroke="#111" stroke-width="1.2" />
<line x1="198" y1="267.7" x2="203.8" y2="267.7" stroke="#111" stroke-width="1.2" />
<line x1="198" y1="261.7" x2="201" y2="261.7" stroke="#111" stroke-width="1.2" />
<line x1="198" y1="255.7" x2="201" y2="255.7" stroke="#111" stroke-width="1.2" />
<line x1="198" y1="249.7" x2="201" y2="249.7" stroke="#111" stroke-width="1.2" />
<line x1="198" y1="243.7" x2="203.8" y2="243.7" stroke="#111" stroke-width="1.2" />
<line x1="198" y1="237.7" x2="201" y2="237.7" stroke="#111" stroke-width="1.2" />
<line x1="198" y1="231.7" x2="201" y2="231.7" stroke="#111" stroke-width="1.2" />
<line x1="198" y1="225.7" x2="201" y2="225.7" stroke="#111" stroke-width="1.2" />
<line x1="198" y1="219.7" x2="203.8" y2="219.7" stroke="#111" stroke-width="1.2" />
<line x1="198" y1="213.7" x2="201" y2="213.7" stroke="#111" stroke-width="1.2" />
<line x1="198" y1="207.7" x2="201" y2="207.7" stroke="#111" stroke-width="1.2" />
<line x1="198" y1="201.7" x2="201" y2="201.7" stroke="#111" stroke-width="1.2" />
<line x1="198" y1="195.7" x2="203.8" y2="195.7" stroke="#111" stroke-width="1.2" />
<text x="195.4" y="318.8" font-size="8.9" text-anchor="end" font-weight="normal" fill="#2a2a2a" >0</text>
<text x="195.4" y="294.8" font-size="8.9" text-anchor="end" font-weight="normal" fill="#2a2a2a" >20</text>
<text x="195.4" y="270.8" font-size="8.9" text-anchor="end" font-weight="normal" fill="#2a2a2a" >40</text>
<text x="195.4" y="246.8" font-size="8.9" text-anchor="end" font-weight="normal" fill="#2a2a2a" >60</text>
<text x="195.4" y="222.8" font-size="8.9" text-anchor="end" font-weight="normal" fill="#2a2a2a" >80</text>
<text x="195.4" y="198.8" font-size="8.9" text-anchor="end" font-weight="normal" fill="#2a2a2a" >100</text>
<text x="221" y="325.4" font-size="8.7" text-anchor="middle" font-weight="normal" fill="#2a2a2a" >IL-2</text>
<text x="267.8" y="325.4" font-size="8.7" text-anchor="middle" font-weight="normal" fill="#2a2a2a" >PM21</text>
<text x="314.5" y="325.4" font-size="8.7" text-anchor="middle" font-weight="normal" fill="#2a2a2a" >CAP</text>
<text transform="translate(178.5,256.2) rotate(-90)" font-size="10.4" text-anchor="middle" fill="#2a2a2a">NK cells (%)</text>
<polyline points="280.3,198.7 282.6,198.7 282.6,226.2 280.3,226.2" fill="none" stroke="#111" stroke-width="1.1" stroke-linejoin="round" style="stroke-linejoin:miter"/>
<rect x="284.4" y="210.5" width="1.6" height="1.6" fill="#222"/>
<rect x="288" y="210.5" width="1.6" height="1.6" fill="#222"/>
<rect x="291.6" y="210.5" width="1.6" height="1.6" fill="#222"/>
<rect x="295.2" y="210.5" width="1.6" height="1.6" fill="#222"/>
<line x1="285.3" y1="214.7" x2="285.3" y2="222.7" stroke="#111" stroke-width="1.1" />
<line x1="295.6" y1="214.7" x2="295.6" y2="222.7" stroke="#111" stroke-width="1.1" />
<line x1="285.3" y1="218.6" x2="295.6" y2="218.6" stroke="#111" stroke-width="1.1" />
<polyline points="302.2,198.7 299.8,198.7 299.8,271.6 301.8,271.6" fill="none" stroke="#111" stroke-width="1.1" stroke-linejoin="round" style="stroke-linejoin:miter"/>
<text x="337.3" y="204.6" font-size="10.3" text-anchor="start" font-weight="normal" fill="#2a2a2a" ># of divisions:</text>
<rect x="353.8" y="213.5" width="15.2" height="4.8" fill="#c8c8e6" stroke="#1a1a2a" stroke-width="1.5"/>
<text x="378.6" y="219.5" font-size="10.2" text-anchor="start" font-weight="normal" fill="#2a2a2a" >0</text>
<rect x="353.8" y="226.4" width="15.2" height="4.8" fill="#9898cc" stroke="#1a1a2a" stroke-width="1.5"/>
<text x="378.6" y="232.4" font-size="10.2" text-anchor="start" font-weight="normal" fill="#2a2a2a" >1</text>
<rect x="353.8" y="239.3" width="15.2" height="4.8" fill="#7474bc" stroke="#1a1a2a" stroke-width="1.5"/>
<text x="378.6" y="245.3" font-size="10.2" text-anchor="start" font-weight="normal" fill="#2a2a2a" >2</text>
<rect x="353.8" y="252.2" width="15.2" height="4.8" fill="#5a5eb4" stroke="#1a1a2a" stroke-width="1.5"/>
<text x="378.6" y="258.2" font-size="10.2" text-anchor="start" font-weight="normal" fill="#2a2a2a" >3</text>
<rect x="353.8" y="265.1" width="15.2" height="4.8" fill="#4a4c9c" stroke="#1a1a2a" stroke-width="1.5"/>
<text x="378.6" y="271.1" font-size="10.2" text-anchor="start" font-weight="normal" fill="#2a2a2a" >4</text>
<rect x="353.8" y="278" width="15.2" height="4.8" fill="#3c3e88" stroke="#1a1a2a" stroke-width="1.5"/>
<text x="378.6" y="284" font-size="10.2" text-anchor="start" font-weight="normal" fill="#2a2a2a" >5</text>
<rect x="353.8" y="290.9" width="15.2" height="4.8" fill="#3a2e58" stroke="#1a1a2a" stroke-width="1.5"/>
<text x="378.6" y="296.9" font-size="10.2" text-anchor="start" font-weight="normal" fill="#2a2a2a" >6</text>
</svg></body></html>
